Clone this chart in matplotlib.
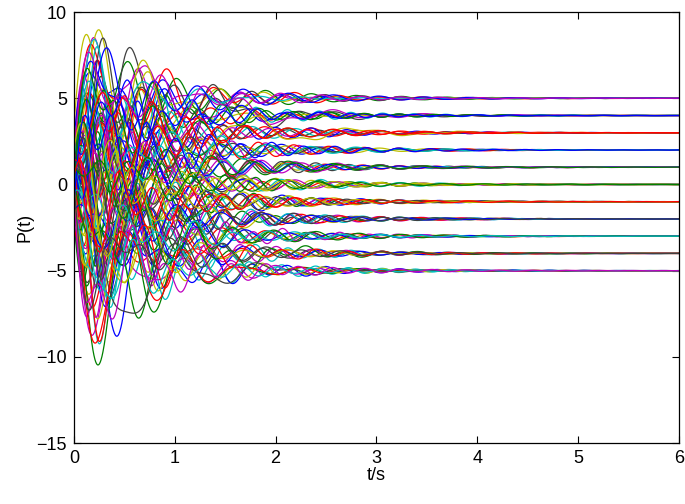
import numpy as np
import matplotlib
matplotlib.use("Agg")
import matplotlib.pyplot as plt

# ---- data (per-trajectory parameters) ----
# final settling level of every trajectory, in drawing order
levels = [5, 4, 3, 2, 1, 0, -1, -2, -3, -4, -5] * 8 + [5, 0, -2, 4, 1, 3, -3, -5, -1, -4, 2, 0, -1]

# value at t = 0
start_values = [
    2.5, 2.0, 0.5, -1.0, 2.5, 0.0, -1.5, 1.0, -2.0, 0.5, -1.0,
    1.5, 3.5, 2.8, 1.5, -2.0, 2.0, 0.5, -1.0, 1.5, -2.5, -0.2,
    3.0, 1.0, -1.5, 0.5, 1.0, -2.0, 2.5, 0.0, -1.0, 1.0, 0.0,
    1.0, 2.0, 0.0, 2.0, -0.5, 1.5, -2.0, 2.0, 0.5, -1.5, 2.0,
    1.0, 1.5, 2.0, -2.0, 0.0, -1.0, 1.0, -2.5, 2.5, -0.5, -2.5,
    2.5, 0.0, 1.0, 2.5, 1.5, 0.5, -1.0, 1.5, -2.5, 0.0, 1.0,
    1.5, 0.0, 0.0, 1.0, 2.5, -1.5, 0.0, 1.0, 1.0, -2.0, 0.5,
    2.8, 0.5, 1.5, -0.5, -1.5, 1.0, 2.0, -1.5, 0.0, 1.5, -1.5,
    2.0, -1.0, 0.5, 2.0, 0.0, 1.5, -0.5, -1.0, 2.0, 0.0, -1.0, 1.0, 0.5,
]

# initial rate of change (1/s)
start_slopes = [
    15, -20, 15, -35, 25, -10, 40, -25, 10, -30, -15,
    50, 70, -25, 20, -40, 35, -15, 25, -45, 15, 30,
    -15, 35, -30, 10, 20, -35, 25, -45, 30, -10, -35,
    40, -50, 40, -20, 15, -25, 35, 10, -35, 25, -55,
    30, 25, -10, 30, -30, 45, -25, 15, 20, -40, -5,
    -25, 40, 20, -15, 35, -20, 10, -30, 40, 25, -45,
    45, -35, -45, 25, -20, 15, -40, 35, -15, 30, 30,
    10, 30, -40, 35, 10, -30, 20, -20, 25, -25, 15,
    25, -30, 20, -25, 35, 30, -20, -30, 15, -35, 20, 25, -15,
]

# main oscillation frequency (rad/s)
main_freq = [
    10, 11, 9, 12, 10, 12, 9, 11, 9, 12, 10,
    13, 12, 12, 10, 11, 9, 12, 10, 12, 10, 10,
    9, 12, 10, 11, 10, 12, 9, 10, 12, 11, 12,
    11, 7, 12, 9, 12, 10, 11, 9, 10, 11, 11,
    10, 11, 9, 11, 12, 10, 10, 12, 9, 12, 10,
    12, 9, 11, 10, 9, 11, 12, 10, 11, 6, 11,
    12, 6.5, 6, 12, 10, 9, 10, 11, 12, 10, 7,
    9, 11, 10, 10, 12, 11, 9, 10, 11, 10, 12,
    11, 10, 12, 9, 10, 11, 10, 9, 11, 12, 11, 10, 10,
]

# damping of the main oscillation (1/s)
main_decay = [
    2.0, 2.2, 1.8, 2.4, 2.0, 1.9, 2.3, 2.1, 1.8, 2.5, 2.2,
    2.0, 2.0, 2.0, 1.8, 2.6, 2.2, 1.9, 2.4, 2.0, 2.1, 2.0,
    2.2, 2.0, 2.5, 2.1, 1.8, 2.3, 2.0, 1.9, 2.4, 2.2, 2.0,
    1.8, 1.5, 2.1, 2.0, 2.2, 1.7, 2.5, 2.0, 2.3, 1.9, 1.7,
    1.8, 2.5, 2.2, 1.9, 2.0, 2.4, 1.8, 2.2, 2.1, 2.3, 1.6,
    2.1, 1.9, 2.0, 2.3, 2.4, 2.0, 2.2, 1.8, 1.9, 1.5, 1.8,
    2.0, 1.4, 1.3, 2.2, 2.0, 2.1, 2.4, 2.3, 1.7, 2.0, 1.7,
    2.3, 2.0, 2.4, 1.9, 2.1, 2.5, 2.0, 2.1, 2.2, 1.8, 2.3,
    2.0, 2.2, 1.9, 2.1, 2.3, 2.0, 1.8, 2.0, 2.2, 2.4, 1.9, 2.1, 2.0,
]

# amplitude of the slower-damped ripple
ripple_amp = [
    1.5, -2.0, 2.5, -1.0, 3.0, -2.5, 1.8, -2.2, 2.0, -1.5, 2.8,
    -1.0, 0.3, -1.5, 2.2, -2.8, 1.6, -2.4, 2.9, -1.8, 2.3, -2.6,
    2.8, -1.6, 2.0, -2.6, 1.5, -2.2, 2.7, -1.9, 2.4, -2.8, -1.7,
    -1.5, 2.1, -2.7, 1.8, -2.2, 2.9, -1.6, 2.4, -2.3, 1.9, 0.8,
    2.3, -2.9, 1.6, -2.1, 2.6, -1.8, 2.2, -2.5, 1.7, -2.7, 2.0,
    -2.4, 1.9, -2.3, 2.7, -1.7, 2.2, -2.9, 1.6, -2.1, 2.5, -0.8,
    -0.5, -1.8, -1.5, -2.0, 1.9, -2.4, 2.1, -2.8, 2.6, -1.7, 1.2,
    -2.6, 2.4, -1.9, 2.5, -2.3, 1.7, -2.2, 2.0, -2.8, 2.2, -1.6,
    2.1, -2.3, 2.5, -1.9, 2.2, -2.6, 1.8, -2.4, 2.0, -2.1, 2.6, -2.0, 2.3,
]

# ripple frequency (rad/s)
ripple_freq = [
    16, 19, 14, 21, 15, 18, 14, 20, 17, 14, 19,
    18, 14, 20, 16, 14, 21, 17, 15, 19, 14, 17,
    14, 17, 15, 19, 22, 14, 16, 18, 14, 20, 15,
    16, 15, 18, 14, 17, 16, 20, 14, 18, 16, 14,
    15, 20, 17, 14, 19, 14, 22, 16, 15, 18, 21,
    17, 16, 14, 18, 20, 15, 14, 21, 14, 17, 16,
    19, 14, 16, 15, 18, 20, 15, 17, 22, 14, 15,
    14, 18, 21, 14, 16, 19, 18, 14, 15, 19, 18,
    16, 14, 18, 20, 15, 14, 17, 19, 14, 16, 20, 15, 18,
]

ripple_decay = 1.0
t_end = 6.0
x_ticks = [0, 1, 2, 3, 4, 5, 6]
y_ticks = [-15, -10, -5, 0, 5, 10]

# ---- figure ----
plt.rcParams['font.family'] = ['Liberation Sans', 'DejaVu Sans']
fig = plt.figure(figsize=(6.85, 5.04), dpi=100)
ax = fig.add_axes([0.108, 0.121, 0.883, 0.855])

matlab_colors = [(0, 0, 1), (0, 0.5, 0), (1, 0, 0), (0, 0.75, 0.75),
                 (0.75, 0, 0.75), (0.75, 0.75, 0), (0.25, 0.25, 0.25)]
ax.set_prop_cycle(color=matlab_colors)

t = np.linspace(0, t_end, 2401)
for L, p0, v0, w1, a1, B, w2 in zip(levels, start_values, start_slopes, main_freq,
                                    main_decay, ripple_amp, ripple_freq):
    D = p0 - L
    p = (L + np.exp(-a1 * t) * (D * np.cos(w1 * t) + (v0 + a1 * D) / w1 * np.sin(w1 * t))
         + B * np.exp(-ripple_decay * t) * np.sin(w2 * t))
    ax.plot(t, p, lw=0.9)

ax.set_xlim(0, 6)
ax.set_ylim(-15, 10)
ax.set_xticks(x_ticks)
ax.set_yticks(y_ticks)
ax.tick_params(direction='in', top=True, right=True, length=5, width=0.8,
               labelsize=13, pad=5)
for s in ax.spines.values():
    s.set_linewidth(0.9)
ax.set_xlabel('t/s', fontsize=13, labelpad=0)
ax.set_ylabel('P(t)', fontsize=13, labelpad=2)

fig.savefig('out.png', dpi=100)
